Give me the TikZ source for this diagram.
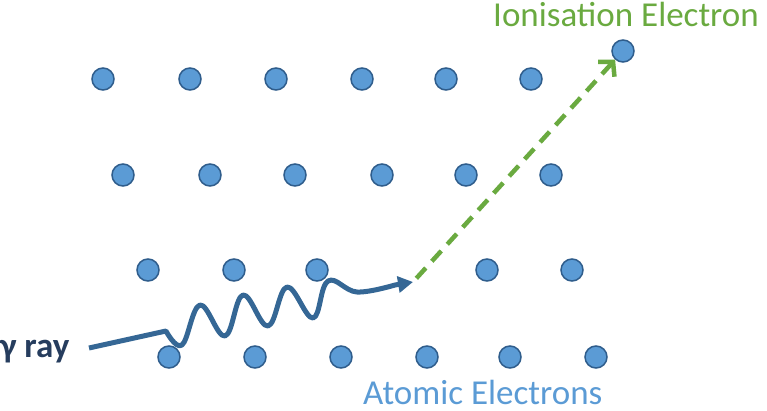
\documentclass[tikz,border=0pt]{standalone}
\usepackage{fontspec}
\setmainfont{Carlito}
\usetikzlibrary{arrows.meta}
\definecolor{dotfill}{HTML}{5B9BD5}
\definecolor{dotline}{HTML}{2F5D8C}
\definecolor{wavecol}{HTML}{356795}
\definecolor{elecgreen}{HTML}{6AAA40}
\definecolor{raycol}{HTML}{263D5E}
\tikzset{
	electron/.style={circle, fill=dotfill, draw=dotline, line width=1.5pt, minimum size=22pt, inner sep=0pt},
	bigtext/.style={anchor=base west, inner sep=0pt, font=\fontsize{35pt}{42pt}\selectfont},
}
\begin{document}
\begin{tikzpicture}[x=1pt, y=-1pt]
	\useasboundingbox (0,0) rectangle (767,411);

	% Electrones atomicos
	\foreach \px [count=\i] in {103,190,276,362,446,531}
		\node [electron] (ea\i) at (\px,79) {};
	\foreach \px [count=\i] in {123,210,295,382,466,551}
		\node [electron] (eb\i) at (\px,175) {};
	\foreach \px [count=\i] in {148,234,317,487,572}
		\node [electron] (ec\i) at (\px,270) {};
	\foreach \px [count=\i] in {169,255,341,427,510,596}
		\node [electron] (ed\i) at (\px,357) {};
	\node [electron] (ion) at (623,51) {};

	% Textos
	\node [bigtext, text=elecgreen] (iontext) at (493,27) {Ionisation Electron};
	\node [bigtext, text=dotfill] (atomtext) at (363,404) {Atomic Electrons};
	\node [bigtext, text=raycol, font=\fontsize{35pt}{42pt}\selectfont\bfseries] (gray) at (0,357) {γ ray};

	% Rayo gamma
	\coordinate (gstart) at (89,348);
	\coordinate (hit) at (413,282);
	\draw [wavecol, line width=5pt, line join=round, -{Triangle[length=15pt,width=16pt]}]
		(gstart) -- (166,331) -- plot [smooth, tension=0.65] coordinates {(166,331) (182,345) (200,305) (225,336) (243,295) (268,326) (287,287) (313,318) (328,281) (357,292) (395,285)} -- (hit);

	% Electron de ionizacion
	\draw [elecgreen, line width=4.5pt, dash pattern=on 14pt off 9pt, shorten <=5pt, -{Straight Barb[length=10pt,width=22pt]}] (hit) -- (ion);
\end{tikzpicture}
\end{document}
